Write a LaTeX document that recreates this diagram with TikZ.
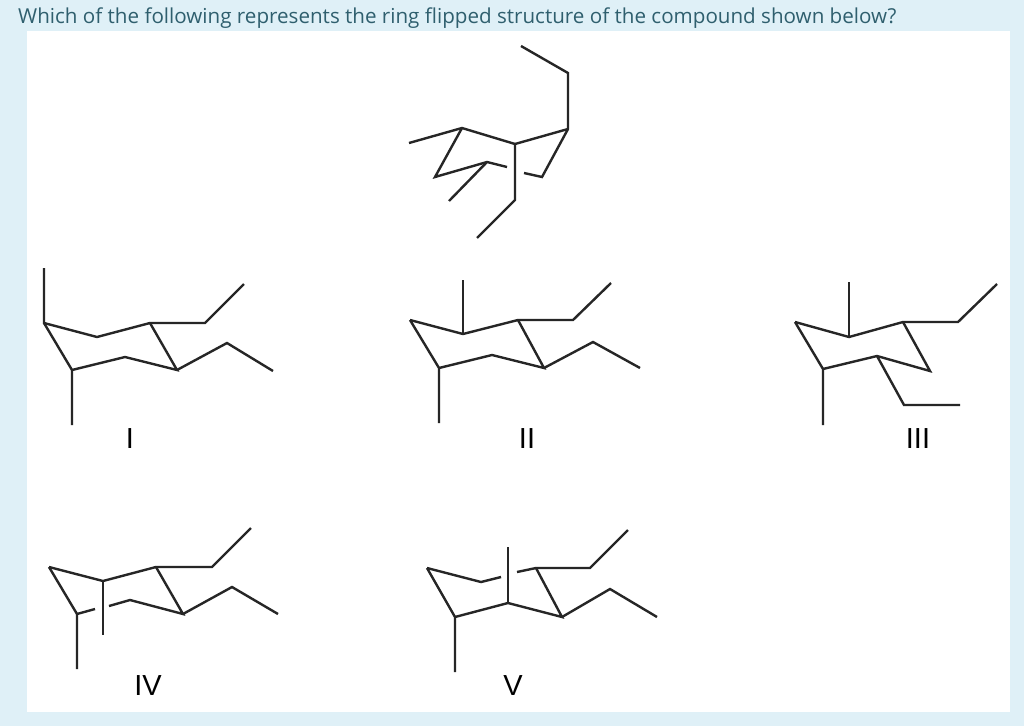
\documentclass[tikz,border=0pt]{standalone}
\usepackage{fontspec}
\setmainfont{Open Sans}
\newfontfamily\lblfont{Liberation Sans}
\definecolor{bgblue}{HTML}{DFF0F7}
\definecolor{titlecol}{HTML}{2F5F6E}
\tikzset{bond/.style={line width=2.4pt,line cap=butt,line join=miter,black!85},
 lbl/.style={font=\fontsize{29}{29}\selectfont\lblfont,inner sep=0pt,anchor=center}}
\begin{document}
\begin{tikzpicture}[x=1pt,y=-1pt]
\fill[bgblue] (0,0) rectangle (1024,726);
\fill[white] (27,31) rectangle (1010,712);
\useasboundingbox (0,0) rectangle (1024,726);
\node[anchor=base west,inner sep=0pt,text=titlecol,font=\fontsize{20.6}{22}\selectfont] (title) at (18,23) {Which of the following represents the ring flipped structure of the compound shown below?};
% top compound
\draw[bond] (521,46) -- (568,73) -- (568,129) -- (542,177) -- (524,173);
\draw[bond] (568,129) -- (515,144) -- (515,200) -- (477,238);
\draw[bond] (409,143) -- (462,128) -- (515,144);
\draw[bond] (462,128) -- (435,177) -- (487,162) -- (507,167);
\draw[bond] (487,162) -- (449,201);
% I
\draw[bond] (44,268) -- (44,323) -- (97,337) -- (150,323) -- (205,323) -- (244,284);
\draw[bond] (44,323) -- (72,370) -- (72,425);
\draw[bond] (72,370) -- (125,357) -- (177,370) -- (150,323);
\draw[bond] (177,370) -- (227,343) -- (273,371);
\node[lbl] (l1) at (130,439) {I};
% II
\draw[bond] (463,280) -- (463,334);
\draw[bond] (410,320) -- (463,334) -- (518,320) -- (573,320) -- (611,283);
\draw[bond] (410,320) -- (439,368) -- (439,423);
\draw[bond] (439,368) -- (492,355) -- (544,368) -- (518,320);
\draw[bond] (544,368) -- (593,342) -- (640,368);
\node[lbl] (l2) at (527,439) {II};
% III
\draw[bond] (849,282) -- (849,337);
\draw[bond] (795,322) -- (849,337) -- (903,322) -- (958,322) -- (997,284);
\draw[bond] (795,322) -- (823,369) -- (823,425);
\draw[bond] (823,369) -- (877,356) -- (930,371) -- (903,322);
\draw[bond] (877,356) -- (904,405) -- (960,405);
\node[lbl] (l3) at (918,439) {III};
% IV
\draw[bond] (49,567) -- (103,581) -- (156,567) -- (212,567) -- (251,528);
\draw[bond] (103,581) -- (103,635);
\draw[bond] (49,567) -- (77,614) -- (77,669);
\draw[bond] (77,614) -- (95,609);
\draw[bond] (109,606) -- (130,600) -- (183,614) -- (156,567);
\draw[bond] (183,614) -- (232,587) -- (278,614);
\node[lbl] (l4) at (148,686) {IV};
% V
\draw[bond] (427,568) -- (481,582) -- (501,577);
\draw[bond] (517,572) -- (536,568) -- (590,568) -- (628,530);
\draw[bond] (508,547) -- (508,603);
\draw[bond] (427,568) -- (455,617) -- (455,672);
\draw[bond] (455,617) -- (508,603) -- (562,617) -- (536,568);
\draw[bond] (562,617) -- (610,589) -- (657,617);
\node[lbl] (l5) at (513,686) {V};
\end{tikzpicture}
\end{document}
